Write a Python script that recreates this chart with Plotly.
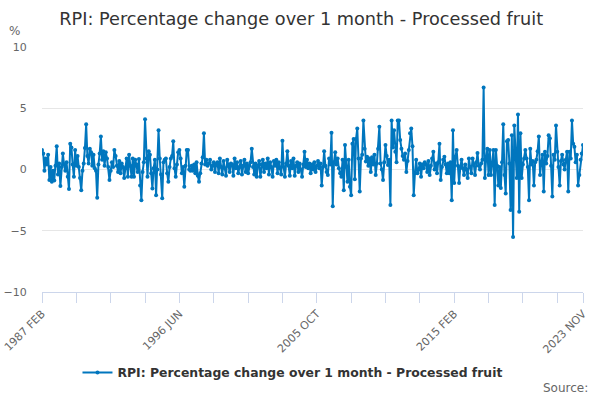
import plotly.graph_objects as go

MONTHS = ["JAN", "FEB", "MAR", "APR", "MAY", "JUN", "JUL", "AUG", "SEP", "OCT", "NOV", "DEC"]

# Monthly % change, 1987 FEB .. 2023 NOV
y1987 = [1.6, 1.3, -0.1, 0.9, 0.4, 1.2, -0.85, 0.2, -1.0, -0.1, -0.9]
y1988 = [0.3, 1.9, -0.4, 0.5, -1.35, 0.2, 1.3, 0.4, -0.1, 0.6, -0.6, -1.6]
y1989 = [2.1, 1.8, 0.4, -0.6, 1.6, 0.3, 1.1, 0.2, -0.7, -1.7, -0.1, 0.5]
y1990 = [1.75, 3.7, 1.1, 0.5, 1.7, 1.4, 0.3, 1.2, 0.1, -0.1, -2.3, 0.4]
y1991 = [1.3, 2.7, 0.8, 1.5, 0.3, 1.4, 0.9, 0.2, -0.85, -0.1, 0.6, 0.2]
y1992 = [1.6, 1.1, 0.3, -0.2, 0.7, -0.3, 0.5, 0.2, -0.7, 0.1, 0.9, -0.6]
y1993 = [1.2, 0.3, -0.6, 0.9, -0.6, 0.8, 0.4, -0.2, 0.85, -1.3, -2.5, -0.2]
y1994 = [0.6, 4.1, 0.9, -0.6, 1.5, 1.2, -0.3, -1.55, 0.1, 0.8, -2.1, 0.0]
y1995 = [3.2, 0.9, -0.4, -2.35, 0.6, 0.8, 0.9, -0.3, -1.0, 0.2, 0.9, 1.1]
y1996 = [2.3, 0.1, -0.6, 0.4, 1.4, 1.6, 0.9, -0.3, 0.2, -1.4, 0.3, 1.6]
y1997 = [1.6, 0.0, -0.1, 0.3, -0.1, 0.4, -0.3, 0.6, -0.5, -1.0, -0.3, 0.5]
y1998 = [1.0, 2.95, 0.4, 0.8, 0.3, 0.5, 0.8, 0.0, 0.3, 0.6, -0.2, 0.4]
y1999 = [0.6, -0.3, 0.9, 0.2, -0.4, 0.7, 0.1, -0.5, 0.8, 0.3, -0.2, 0.5]
y2000 = [0.4, -0.5, 0.9, 0.1, 0.6, -0.3, 0.2, 0.7, -0.4, 0.3, 0.8, -0.2]
y2001 = [0.5, -0.3, 0.3, 0.6, 1.7, 0.2, -0.4, 0.5, -0.6, 0.3, 0.7, -0.6]
y2002 = [0.4, 0.8, -0.2, 0.5, 0.1, 0.9, -0.4, 0.6, 0.2, -0.6, 0.7, 0.3]
y2003 = [0.8, -0.3, 0.6, 0.1, -0.4, 2.35, 0.2, -0.6, 0.5, 1.5, 0.3, -0.5]
y2004 = [0.7, 0.1, 0.9, -0.5, 0.3, 0.6, -0.2, 0.5, 0.0, -0.6, 0.4, 1.45]
y2005 = [0.2, 0.8, 0.1, 0.5, -0.3, 0.4, 0.0, 0.6, -0.2, 0.3, 0.7, 0.1]
y2006 = [0.5, -1.3, 0.2, 1.5, 0.3, -0.2, -0.45, 0.9, 0.4, 3.0, -3.0, 0.6]
y2007 = [1.4, 0.4, 0.9, 0.1, -0.3, -0.6, 0.8, -1.7, 2.0, 0.2, -1.0, 0.8]
y2008 = [-1.4, -2.1, 2.1, 2.5, -0.8, 2.5, 3.35, 0.9, -1.8, 0.9, 1.2, 4.0]
y2009 = [1.7, 0.65, 1.05, 0.3, 0.9, -0.2, 1.0, 0.4, 1.2, -0.45, 0.5, 1.7]
y2010 = [3.5, 0.5, 0.0, -0.86, 0.6, 2.0, 1.1, 0.37, 0.8, -2.9, 4.0, 1.8]
y2011 = [3.2, 1.45, 0.6, 4.0, 4.0, 2.4, 1.7, 1.1, 0.8, 1.3, -0.2, 0.7]
y2012 = [1.6, 2.95, 3.35, 1.9, -2.1, -0.3, 0.8, -0.3, 0.0, 0.5, -0.6, 0.4]
y2013 = [0.1, 0.6, 0.4, -0.2, 0.7, -0.45, 0.3, 0.9, 1.45, 0.0, 0.5, -0.3]
y2014 = [0.6, 2.1, -0.85, 0.2, 0.8, 1.05, 0.4, -0.3, 0.5, -0.3, 0.6, -2.5]
y2015 = [3.2, -1.1, 1.05, 1.6, 0.3, -1.1, 0.2, 0.8, 0.1, -0.45, 0.4, 0.0]
y2016 = [-0.7, 0.9, 0.2, -0.3, 0.9, 0.4, -0.45, 0.6, 1.35, 0.3, 0.0, 0.5]
y2017 = [0.8, 6.7, -0.7, 0.8, 1.7, -0.45, 1.6, -0.45, 0.5, 1.6, -2.9, 1.6]
y2018 = [0.3, -1.3, 0.2, -1.5, 0.6, 3.7, -0.45, -1.95, 2.3, 2.4, 0.5, -3.3]
y2019 = [2.8, -5.5, 3.6, 1.2, -0.7, 4.5, -3.45, 2.95, -0.7, 0.4, 0.9, 1.6]
y2020 = [0.9, 0.2, -2.5, 1.7, 0.4, 0.7, -1.3, 0.6, 0.8, 1.5, 2.7, -0.45]
y2021 = [0.6, 1.2, -1.8, 1.45, 0.5, 1.1, 2.8, 2.55, 0.3, -2.2, 1.2, 0.8]
y2022 = [3.6, 1.45, 0.2, -1.3, 0.7, 1.2, 0.4, 0.0, 0.8, 1.45, -1.8, 1.45]
y2023 = [0.9, 4.0, 2.1, 1.85, 0.6, 1.2, -1.3, -0.45, 0.8, 1.3, 2.0]

years = [y1987, y1988, y1989, y1990, y1991, y1992, y1993, y1994, y1995, y1996,
         y1997, y1998, y1999, y2000, y2001, y2002, y2003, y2004, y2005, y2006,
         y2007, y2008, y2009, y2010, y2011, y2012, y2013, y2014, y2015, y2016,
         y2017, y2018, y2019, y2020, y2021, y2022, y2023]

values = []
for v in years:
    values.extend(v)

# category labels starting 1987 FEB
labels = []
yr, mo = 1987, 1
for _ in values:
    labels.append(f"{yr} {MONTHS[mo]}")
    mo += 1
    if mo == 12:
        mo = 0
        yr += 1

n = len(values)
tick_idx = list(range(0, n - 1, 28))
if tick_idx[-1] != n - 1:
    tick_idx.append(n - 1)
label_idx = {0, 112, 224, 336, n - 1}
tickvals = [labels[i] for i in tick_idx]
ticktext = [labels[i] if i in label_idx else "" for i in tick_idx]

SERIES = "RPI: Percentage change over 1 month - Processed fruit"
FONT = "DejaVu Sans"
BLUE = "#0076be"

fig = go.Figure()
fig.add_trace(go.Scatter(
    x=labels, y=values, mode="lines+markers", name=SERIES,
    line=dict(color=BLUE, width=2),
    marker=dict(color=BLUE, size=4),
))

fig.update_layout(
    width=600, height=400,
    margin=dict(l=42, r=17, t=47, b=108, autoexpand=False),
    paper_bgcolor="white", plot_bgcolor="white",
    font=dict(family=FONT, color="#666666", size=11),
    title=dict(text=SERIES, x=0.502, xanchor="center", y=0.953, yanchor="middle",
               font=dict(family=FONT, size=17.7, color="#333333")),
    showlegend=True,
    legend=dict(orientation="h", x=0.463, xanchor="center", y=-0.33, yanchor="middle",
                itemwidth=30,
                font=dict(family=FONT, size=12.4, color="#333333", weight="bold")),
    annotations=[
        dict(text="%", xref="paper", yref="paper", x=(14 - 42) / 541, y=(292 - 31) / 245,
             xanchor="center", yanchor="middle", showarrow=False,
             font=dict(family=FONT, size=12, color="#666666")),
        dict(text="Source:", xref="paper", yref="paper", x=(590 - 42) / 541,
             y=-(388 - 292) / 245, xanchor="right", yanchor="middle", showarrow=False,
             font=dict(family=FONT, size=12, color="#666666")),
    ],
)

fig.update_xaxes(
    type="category", range=[0, n - 1], automargin=False,
    tickmode="array", tickvals=tickvals, ticktext=ticktext, tickangle=-45,
    ticks="outside", ticklen=10, tickcolor="#ccd6eb", tickwidth=1,
    showline=True, linecolor="#ccd6eb", linewidth=1,
    showgrid=False, zeroline=False,
    tickfont=dict(family=FONT, size=11, color="#666666"),
)
fig.update_yaxes(
    range=[-10, 10], tickvals=[-10, -5, 0, 5, 10], automargin=False,
    showgrid=True, gridcolor="#e6e6e6", gridwidth=1, zeroline=False,
    ticks="outside", ticklen=12, tickcolor="rgba(0,0,0,0)",
    tickfont=dict(family=FONT, size=11, color="#666666"),
)

fig.write_html("out.html")
